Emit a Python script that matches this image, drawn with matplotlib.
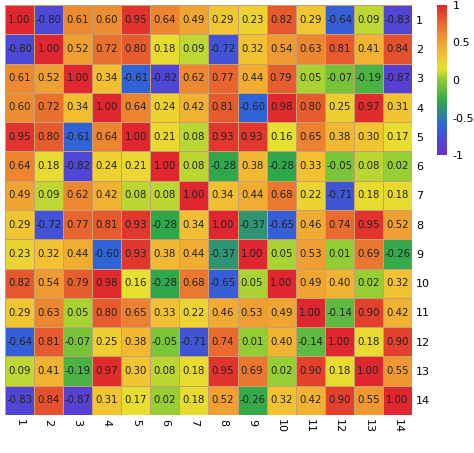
import numpy as np
import matplotlib
matplotlib.use("Agg")
import matplotlib.pyplot as plt
from matplotlib.colors import LinearSegmentedColormap

labels = [str(i) for i in range(1, 15)]
r1 = [1.00, -0.80, 0.61, 0.60, 0.95, 0.64, 0.49, 0.29, 0.23, 0.82, 0.29, -0.64, 0.09, -0.83]
r2 = [-0.80, 1.00, 0.52, 0.72, 0.80, 0.18, 0.09, -0.72, 0.32, 0.54, 0.63, 0.81, 0.41, 0.84]
r3 = [0.61, 0.52, 1.00, 0.34, -0.61, -0.82, 0.62, 0.77, 0.44, 0.79, 0.05, -0.07, -0.19, -0.87]
r4 = [0.60, 0.72, 0.34, 1.00, 0.64, 0.24, 0.42, 0.81, -0.60, 0.98, 0.80, 0.25, 0.97, 0.31]
r5 = [0.95, 0.80, -0.61, 0.64, 1.00, 0.21, 0.08, 0.93, 0.93, 0.16, 0.65, 0.38, 0.30, 0.17]
r6 = [0.64, 0.18, -0.82, 0.24, 0.21, 1.00, 0.08, -0.28, 0.38, -0.28, 0.33, -0.05, 0.08, 0.02]
r7 = [0.49, 0.09, 0.62, 0.42, 0.08, 0.08, 1.00, 0.34, 0.44, 0.68, 0.22, -0.71, 0.18, 0.18]
r8 = [0.29, -0.72, 0.77, 0.81, 0.93, -0.28, 0.34, 1.00, -0.37, -0.65, 0.46, 0.74, 0.95, 0.52]
r9 = [0.23, 0.32, 0.44, -0.60, 0.93, 0.38, 0.44, -0.37, 1.00, 0.05, 0.53, 0.01, 0.69, -0.26]
r10 = [0.82, 0.54, 0.79, 0.98, 0.16, -0.28, 0.68, -0.65, 0.05, 1.00, 0.49, 0.40, 0.02, 0.32]
r11 = [0.29, 0.63, 0.05, 0.80, 0.65, 0.33, 0.22, 0.46, 0.53, 0.49, 1.00, -0.14, 0.90, 0.42]
r12 = [-0.64, 0.81, -0.07, 0.25, 0.38, -0.05, -0.71, 0.74, 0.01, 0.40, -0.14, 1.00, 0.18, 0.90]
r13 = [0.09, 0.41, -0.19, 0.97, 0.30, 0.08, 0.18, 0.95, 0.69, 0.02, 0.90, 0.18, 1.00, 0.55]
r14 = [-0.83, 0.84, -0.87, 0.31, 0.17, 0.02, 0.18, 0.52, -0.26, 0.32, 0.42, 0.90, 0.55, 1.00]
M = np.array([r1, r2, r3, r4, r5, r6, r7, r8, r9, r10, r11, r12, r13, r14])

cmap = LinearSegmentedColormap.from_list("rb", [
    (0.0, "#6a2fd0"), (0.2, "#2f64d8"), (0.36, "#2ea84c"), (0.5, "#8ccc34"),
    (0.58, "#e6e030"), (0.66, "#f2c232"), (0.76, "#f0a032"), (0.88, "#e8682e"), (1.0, "#e0262e")])

fig = plt.figure(figsize=(4.74, 4.53), dpi=100)
ax = fig.add_axes([5/474, 1-415/453, 407/474, 410/453])
n = len(labels)
mesh = ax.pcolormesh(np.arange(n+1), np.arange(n+1), M, cmap=cmap, vmin=-1, vmax=1,
                     edgecolor="#c8a070", linewidth=0.5)
ax.set_xlim(0, n); ax.set_ylim(n, 0)
for i in range(n):
    for j in range(n):
        ax.text(j+0.5, i+0.5, f"{M[i, j]:.2f}", ha="center", va="center", fontsize=7.3, color="#222222")
ax.yaxis.tick_right()
ax.set_yticks(np.arange(n)+0.5, labels, fontsize=8)
ax.set_xticks(np.arange(n)+0.5, labels, fontsize=8, rotation=-90)
ax.tick_params(length=0, pad=3)
for s in ax.spines.values():
    s.set_visible(False)

cax = fig.add_axes([437/474, 1-155/453, 10/474, 150/453])
cb = fig.colorbar(mesh, cax=cax, ticks=[1, 0.5, 0, -0.5, -1])
cb.ax.set_yticklabels(["1", "0.5", "0", "-0.5", "-1"], fontsize=8)
cb.ax.tick_params(length=0, pad=4)
cb.outline.set_visible(False)
fig.savefig("out.png", dpi=100)
